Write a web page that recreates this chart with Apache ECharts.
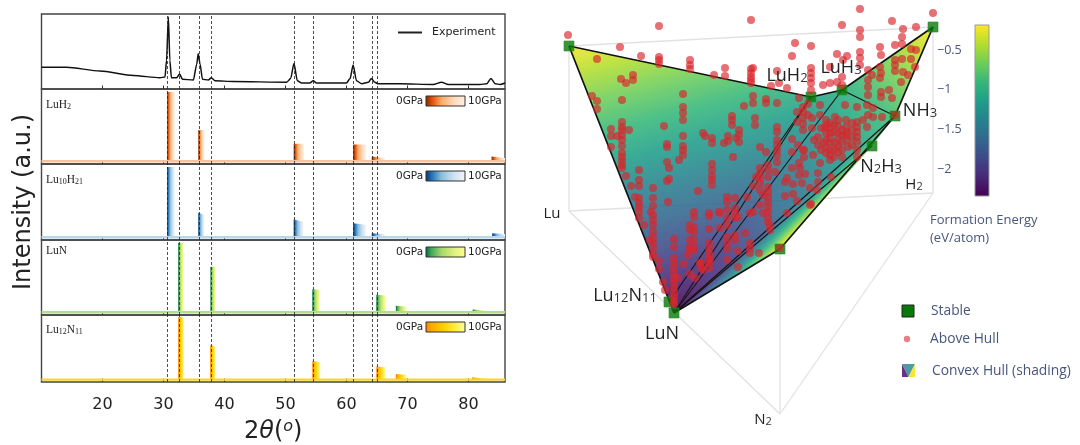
<!DOCTYPE html>
<html><head><meta charset="utf-8">
<style>html,body{margin:0;padding:0;background:#fff}#c{width:1080px;height:445px}</style>
<script src="https://cdn.jsdelivr.net/npm/echarts@6/dist/echarts.min.js"></script>
</head><body><div id="c"></div>
<script>
// ---------- XRD data ----------
const expTheta=[10,14.1,19.6,25.05,29.4,30.25,30.5,30.8,31.05,31.3,32.15,32.65,33.1,34.9,35.45,35.7,36,36.4,37.35,37.85,38.45,41.45,50.2,50.85,51.4,51.95,52.65,54,54.55,55.1,60,60.6,61.1,61.65,62.5,63.6,64.1,64.65,65.2,68.75,74.2,75.6,76.7,81.9,83,83.7,84.4,85.2,86];
const expInt=[29,29,24,18,15,16,38,96,38,15,15,20,13,12,33,47,33,13,12,15,11,10,9,14,34,11,8,8,11,8,8,14,32,11,7,9,14,9,7,7,6,9,6,6,7,14,7,6,8];
const dashedAt=[30.7,32.65,35.8,37.85,51.45,54.6,61.1,64.25,65.1];
const majorTicks=[20,30,40,50,60,70,80];
const baseLevel=3.6;
// each peak: 0 GPa angle, 10 GPa angle, height at 0 GPa, height at 10 GPa
const peaksLuH2=[[30.6,31.85,96,96],[35.7,36.7,45.5,45],[51.35,53.05,27,27],[61.1,63.2,26,26],[64.15,66.3,10,8],[75.6,78.1,5,4],[83.8,86,10,8]];
const peaksLu10H21=[[30.6,31.85,96,96],[35.7,36.7,36,33],[51.35,52.95,27,24],[61.1,63.2,22,20],[64.15,66.3,9,8],[75.6,78,5,4],[83.9,86,9,8]];
const peaksLuN=[[32.4,33.25,96.5,96],[37.7,38.55,64.5,64],[54.4,55.6,34,34],[64.9,66.4,27,26],[68.1,69.8,12.5,11.5],[80.7,82.5,7.5,6.5]];
const peaksLu12N11=[[32.4,33.35,97,97],[37.65,38.55,55,53],[54.4,55.7,31,30],[64.9,66.4,23,22],[68.1,69.85,12,11],[80.6,82.75,7,5]];
const panelNames=[[['LuH',0],['2',1]],[['Lu',0],['10',1],['H',0],['21',1]],[['LuN',0]],[['Lu',0],['12',1],['N',0],['11',1]]];
const rampLuH2=['#7f2704','#d94801','#fdab67','#fdd9bb','#fff1e4'];
const rampLu10H21=['#08306b','#1c6cb1','#8abfdd','#cde0f1','#f2f7fd'];
const rampLuN=['#006837','#3fa65a','#a5d86a','#dcf07f','#ffff8c'];
const rampLu12N11=['#fc7f00','#ffa800','#ffc800','#ffe83a','#fbff9a'];
const baseColours=['#f5c3a0','#b9d6ea','#b4dc8c','#ffd233'];

// ---------- convex-hull projection data (projected picture coordinates) ----------
const hullX=[569,811,842,933,895,872,780,674,669];
const hullY=[46,97,90,27,116,146,249,313,302];
const hullE=[-0.22,-1.05,-1.0,-0.2,-0.85,-0.7,-0.2,-2.34,-2.2];
const hullTriangles=[[0,1,7],[1,2,7],[2,4,7],[4,5,7],[5,6,7],[2,3,4]];
const hullEdgesOuter=[[0,1],[1,2],[2,3],[3,4],[4,6],[6,7],[7,0]];
const hullEdgesInner=[[8,1],[7,1],[7,2],[2,4],[7,4],[7,5]];
const boxEdges=[[569,46,933,27],[569,211,933,193],[569,46,569,211],[933,27,933,193],[569,211,780,414],[780,414,933,193],[780,249,780,414]];
const labelX=[552,787,841,914,920,881,763,662,625];
const labelY=[214,75,67,184,110,166,419,334,295];
const labelTxt=['{b|Lu}','{a|LuH}{c|2}','{a|LuH}{c|3}','{b|H}{d|2}','{a|NH}{c|3}','{a|N}{c|2}{a|H}{c|3}','{b|N}{d|2}','{a|LuN}','{a|Lu}{c|12}{a|N}{c|11}'];
const aboveHull=[[568,35],[659,26],[751,20],[620,47],[641,56],[659,57],[659,60],[659,64],[690,60],[690,65],[690,69],[597,59],[714,75],[725,68],[725,76],[751,69],[751,73],[751,77],[751,80],[751,83],[753,68],[777,71],[771,86],[779,83],[787,88],[792,56],[795,43],[811,46],[799,98],[633,75],[633,80],[621,79],[626,83],[592,96],[597,101],[597,109],[622,100],[683,94],[683,107],[683,113],[683,120],[664,126],[611,129],[611,136],[622,122],[622,127],[622,130],[622,135],[622,140],[617,136],[629,130],[611,147],[622,146],[622,153],[622,157],[622,161],[622,165],[622,168],[626,176],[639,170],[639,180],[639,186],[631,186],[653,188],[653,198],[635,197],[639,198],[639,203],[639,207],[639,212],[639,218],[651,212],[653,206],[653,215],[653,220],[653,225],[653,232],[668,202],[667,144],[667,147],[679,160],[667,162],[669,168],[667,181],[669,179],[683,136],[683,146],[683,150],[683,155],[703,133],[705,136],[712,138],[712,143],[724,143],[728,136],[728,141],[736,138],[739,130],[739,135],[739,142],[732,116],[732,120],[732,125],[744,106],[753,96],[753,103],[755,118],[755,125],[766,99],[766,103],[777,103],[777,127],[777,132],[760,147],[777,140],[777,145],[777,150],[777,155],[777,162],[733,157],[792,139],[712,164],[712,170],[712,176],[712,180],[712,185],[698,191],[727,197],[727,202],[804,150],[804,157],[799,163],[800,168],[792,168],[799,175],[805,174],[787,178],[785,182],[793,184],[802,183],[810,188],[793,194],[797,201],[760,168],[760,173],[760,178],[760,183],[760,190],[768,165],[768,170],[768,177],[756,177],[753,186],[768,187],[768,192],[768,197],[768,202],[768,207],[768,212],[768,217],[768,222],[770,225],[770,230],[763,195],[760,205],[763,213],[747,197],[750,213],[753,212],[735,198],[727,210],[727,218],[735,208],[735,213],[735,218],[720,213],[709,213],[709,216],[738,217],[709,229],[720,228],[727,225],[745,233],[735,235],[735,240],[727,237],[727,243],[727,249],[750,243],[750,248],[750,253],[738,251],[759,253],[727,260],[738,267],[709,243],[709,248],[709,253],[709,258],[709,263],[709,268],[701,263],[701,268],[780,248],[787,213],[810,205],[644,225],[653,238],[653,243],[653,248],[653,254],[653,257],[650,240],[659,261],[659,269],[694,212],[694,217],[719,212],[690,225],[690,230],[690,240],[690,247],[690,250],[694,227],[694,232],[694,240],[694,247],[694,250],[674,239],[674,247],[674,258],[674,263],[674,268],[674,273],[674,278],[674,283],[674,288],[674,293],[674,297],[674,301],[678,278],[663,282],[665,290],[684,264],[688,255],[690,274],[700,263],[695,278],[710,260],[703,270],[674,304],[860,9],[933,13],[892,21],[842,25],[860,30],[860,37],[903,29],[916,27],[902,37],[880,47],[895,45],[902,44],[881,55],[837,54],[847,56],[843,60],[860,52],[860,58],[860,65],[830,67],[811,68],[811,73],[811,78],[811,83],[811,90],[895,60],[895,65],[902,59],[911,49],[916,50],[911,59],[915,67],[903,72],[895,71],[880,67],[881,73],[868,70],[872,75],[868,80],[868,87],[868,95],[880,78],[889,90],[881,92],[881,97],[892,98],[908,75],[901,82],[867,105],[873,108],[857,107],[845,105],[895,115],[882,117],[873,117],[868,115],[863,120],[867,127],[857,122],[857,127],[857,132],[857,137],[857,142],[857,150],[857,157],[852,123],[847,132],[830,83],[823,85],[837,82],[842,77],[842,85],[820,105],[820,115],[803,107],[803,112],[803,118],[803,124],[803,130],[808,115],[830,123],[830,128],[830,133],[830,138],[830,143],[830,150],[830,155],[830,160],[835,117],[835,143],[842,130],[842,135],[842,142],[842,150],[842,157],[818,137],[823,143],[825,128],[847,140],[848,147],[818,145],[803,150],[820,163],[818,173],[818,182],[831,177],[817,190],[811,204],[826,120],[826,125],[826,133],[826,140],[826,147],[826,153],[838,120],[838,126],[838,133],[838,139],[838,146],[838,152],[846,120],[846,127],[846,135],[852,130],[852,137],[852,145],[834,125],[834,132],[834,150],[834,157],[821,128],[821,150],[814,140],[812,128],[812,118],[797,112],[797,122],[808,104],[813,155],[798,145],[792,152],[785,196],[775,172],[766,152]];
// ---------- colour bar ----------
const energyMin=-2.34, energyMax=-0.185;
const energyTicks=[-2,-1.5,-1,-0.5];
const viridis=['#440154','#482878','#3e4989','#31688e','#26828e','#1f9e89','#35b779','#6ece58','#b5de2b','#fde725'];

const vStops=viridis.map((c,i)=>({offset:i/(viridis.length-1),color:c}));
const rampStops=r=>[{offset:0,color:r[0]},{offset:.14,color:r[1]},{offset:.4,color:r[2]},{offset:.7,color:r[3]},{offset:1,color:r[4]}];
const ramps=[rampLuH2,rampLu10H21,rampLuN,rampLu12N11];
const peaks=[peaksLuH2,peaksLu10H21,peaksLuN,peaksLu12N11];

const L=41.5,W=463.5;
const panelTop=[14,89,164,240,315], panelH=[75,75,76,75,75];
const grids=panelTop.map((t,i)=>({left:L,width:W,top:t,height:panelH[i],show:true,borderColor:'#444',borderWidth:1.4,backgroundColor:'transparent'}));
grids.push({left:520,width:560,top:0,height:445,show:false});            // hull
grids.push({left:975,width:14,top:25,height:171,show:false});             // colour bar

const xAxes=panelTop.map((t,i)=>({gridIndex:i,type:'value',min:10,max:86,
  axisLine:{show:false},splitLine:{show:false},
  axisTick:{show:true,inside:true,length:3.5,customValues:majorTicks,lineStyle:{color:'#333',width:1}},
  axisLabel:{show:i===4,customValues:majorTicks,color:'#222',fontFamily:'DejaVu Sans',fontSize:16,margin:15},
  ...(i===4?{name:'2{i|θ}({s|o})',nameLocation:'middle',nameGap:37,nameTextStyle:{fontFamily:'DejaVu Sans',fontSize:24,color:'#222',rich:{i:{fontFamily:'DejaVu Sans',fontStyle:'italic',fontSize:24,color:'#222'},s:{fontFamily:'DejaVu Sans',fontStyle:'italic',fontSize:16,color:'#222',padding:[0,0,10,0]}}}}:{})}));
const yAxes=panelTop.map((t,i)=>({gridIndex:i,type:'value',min:0,max:100,
  axisLine:{show:false},axisTick:{show:false},axisLabel:{show:false},splitLine:{show:false},
  ...(i===2?{name:'Intensity (a.u.)',nameLocation:'middle',nameGap:6,nameRotate:90,nameTextStyle:{fontFamily:'DejaVu Sans',fontSize:24,color:'#222'}}:{})}));
xAxes.push({gridIndex:5,type:'value',min:520,max:1080,show:false});
yAxes.push({gridIndex:5,type:'value',min:0,max:445,inverse:true,show:false});
xAxes.push({gridIndex:6,type:'value',min:0,max:1,show:false});
yAxes.push({gridIndex:6,type:'value',min:energyMin,max:energyMax,position:'left',
  axisLine:{show:false},axisTick:{show:false},splitLine:{show:false},
  axisLabel:{customValues:energyTicks,margin:38,align:'left',color:'#47567c',fontFamily:'Open Sans',fontSize:12.5,formatter:v=>String(v).replace('-','−')}});

const dashLines=dashedAt.map(x=>({xAxis:x}));
const series=[];
series.push({name:'Experiment',type:'line',xAxisIndex:0,yAxisIndex:0,data:expTheta.map((x,i)=>[x,expInt[i]]),showSymbol:false,smooth:0.25,smoothMonotone:'x',lineStyle:{color:'#111',width:1.5},itemStyle:{color:'#222'},z:4,
  markLine:{silent:true,symbol:'none',label:{show:false},animation:false,lineStyle:{color:'#222',type:[3,2],width:.8},data:dashLines}});
peaks.forEach((pk,p)=>{
  const ax=p+1;
  series.push({type:'line',xAxisIndex:ax,yAxisIndex:ax,data:[[10,baseLevel],[86,baseLevel]],showSymbol:false,lineStyle:{color:baseColours[p],width:2.4},z:2,
    markLine:{silent:true,symbol:'none',label:{show:false},animation:false,lineStyle:{color:'#222',type:[3,2],width:.8},data:dashLines},zlevel:0});
  series.push({type:'custom',xAxisIndex:ax,yAxisIndex:ax,data:pk,z:1,clip:true,silent:true,
    encode:{x:[0,1],y:[2,3]},
    renderItem:(params,api)=>{
      const x0=api.value(0),x1=api.value(1),h0=api.value(2),h1=api.value(3);
      const a=api.coord([x0,baseLevel]),b=api.coord([x0,h0]),c=api.coord([x1,h1]),d=api.coord([x1,baseLevel]);
      return {type:'polygon',shape:{points:[a,b,c,d]},style:{fill:new echarts.graphic.LinearGradient(a[0],0,d[0],0,rampStops(ramps[p]),true)}};
    }});
});
// hull box
series.push({type:'custom',xAxisIndex:5,yAxisIndex:5,data:boxEdges,z:1,silent:true,encode:{x:[0,2],y:[1,3]},
  renderItem:(params,api)=>{const a=api.coord([api.value(0),api.value(1)]),b=api.coord([api.value(2),api.value(3)]);
    return {type:'line',shape:{x1:a[0],y1:a[1],x2:b[0],y2:b[1]},style:{stroke:'#e2e2e2',lineWidth:1.3}};}});
// hull shading
series.push({name:'Convex Hull (shading)',type:'custom',xAxisIndex:5,yAxisIndex:5,data:hullTriangles,z:2,silent:true,
  encode:{x:[],y:[]},
  renderItem:(params,api)=>{
    const t=hullTriangles[params.dataIndex];
    const pts=t.map(i=>api.coord([hullX[i],hullY[i]])),v=t.map(i=>hullE[i]);
    const [p0,p1,p2]=pts;
    const d1=[p1[0]-p0[0],p1[1]-p0[1]],d2=[p2[0]-p0[0],p2[1]-p0[1]];
    const det=d1[0]*d2[1]-d1[1]*d2[0];
    const a=((v[1]-v[0])*d2[1]-(v[2]-v[0])*d1[1])/det, b=(d1[0]*(v[2]-v[0])-d2[0]*(v[1]-v[0]))/det;
    const n=a*a+b*b;
    const s=[p0[0]+(energyMin-v[0])*a/n,p0[1]+(energyMin-v[0])*b/n],e=[p0[0]+(energyMax-v[0])*a/n,p0[1]+(energyMax-v[0])*b/n];
    return {type:'polygon',shape:{points:pts},style:{opacity:.88,fill:new echarts.graphic.LinearGradient(s[0],s[1],e[0],e[1],vStops,true)}};
  }});
// hull edges
const edgeSeries=(list,w)=>({type:'custom',xAxisIndex:5,yAxisIndex:5,data:list,z:3,silent:true,encode:{x:[],y:[]},
  renderItem:(params,api)=>{const [i,j]=list[params.dataIndex];const a=api.coord([hullX[i],hullY[i]]),b=api.coord([hullX[j],hullY[j]]);
    return {type:'line',shape:{x1:a[0],y1:a[1],x2:b[0],y2:b[1]},style:{stroke:'#111',lineWidth:w}};}});
series.push(edgeSeries(hullEdgesInner,1.1),edgeSeries(hullEdgesOuter,1.7));
series.push({name:'Stable',type:'scatter',xAxisIndex:5,yAxisIndex:5,data:hullX.map((x,i)=>[x,hullY[i]]),symbol:'rect',symbolSize:10,itemStyle:{color:'#067a06',borderColor:'#3b8a3b',borderWidth:.8},z:4,silent:true});
series.push({name:'Above Hull',type:'scatter',xAxisIndex:5,yAxisIndex:5,data:aboveHull,symbol:'circle',symbolSize:8,itemStyle:{color:'#d9262c',opacity:.66},z:5,silent:true});
const rs={a:{fontFamily:'Open Sans',fontSize:18,color:'#222',verticalAlign:'bottom'},b:{fontFamily:'Open Sans',fontSize:15,color:'#222',verticalAlign:'bottom'},
  c:{fontFamily:'Open Sans',fontSize:13,color:'#333',verticalAlign:'bottom',padding:[7,0,0,0]},d:{fontFamily:'Open Sans',fontSize:11,color:'#333',verticalAlign:'bottom',padding:[6,0,0,0]}};
series.push({type:'scatter',xAxisIndex:5,yAxisIndex:5,data:labelX.map((x,i)=>[x,labelY[i]]),symbolSize:1,itemStyle:{color:'rgba(0,0,0,0)'},z:6,silent:true,
  label:{show:true,position:'inside',opacity:1,formatter:p=>labelTxt[p.dataIndex],rich:rs}});
// colour bar
series.push({type:'custom',xAxisIndex:6,yAxisIndex:6,data:[[energyMin,energyMax]],z:2,silent:true,encode:{x:[],y:[0,1]},
  renderItem:(params,api)=>{const s=api.coord([0,api.value(0)]),e=api.coord([1,api.value(1)]);
    return {type:'rect',shape:{x:s[0],y:e[1],width:e[0]-s[0],height:s[1]-e[1]},style:{stroke:'#999',lineWidth:1,fill:new echarts.graphic.LinearGradient(0,s[1],0,e[1],vStops,true)}};}});

const graphic=[];
const panelLabelY=[105,180,251,330];
panelNames.forEach((parts,i)=>{
  const txt=parts.map(p=>'{'+(p[1]?'s':'n')+'|'+p[0]+'}').join('');
  graphic.push({type:'text',x:46,y:panelLabelY[i],z:20,style:{text:txt,verticalAlign:'middle',rich:{n:{fontFamily:'Liberation Serif',fontSize:11.5,fill:'#222',verticalAlign:'bottom'},s:{fontFamily:'Liberation Serif',fontSize:8,fill:'#222',verticalAlign:'bottom',padding:[3,0,0,0]}}}});
  const top=panelTop[i+1]+7;
  graphic.push({type:'text',x:396,y:top+5,z:20,style:{text:'0GPa',fontFamily:'DejaVu Sans',fontSize:10.5,fill:'#222',verticalAlign:'middle'}});
  graphic.push({type:'rect',z:20,shape:{x:426,y:top,width:39,height:10},style:{stroke:'#333',lineWidth:1,fill:new echarts.graphic.LinearGradient(0,0,1,0,rampStops(ramps[i]))}});
  graphic.push({type:'text',x:468,y:top+5,z:20,style:{text:'10GPa',fontFamily:'DejaVu Sans',fontSize:10.5,fill:'#222',verticalAlign:'middle'}});
});
const navy='#47567c';
graphic.push({type:'text',x:930,y:220,z:20,style:{text:'Formation Energy',fontFamily:'Open Sans',fontSize:13,fill:navy,verticalAlign:'middle'}});
graphic.push({type:'text',x:930,y:238,z:20,style:{text:'(eV/atom)',fontFamily:'Open Sans',fontSize:13,fill:navy,verticalAlign:'middle'}});
graphic.push({type:'rect',z:20,shape:{x:902,y:305,width:12,height:12},style:{fill:'#067a06',stroke:'#222',lineWidth:1}});
graphic.push({type:'circle',z:20,shape:{cx:907,cy:339,r:3.2},style:{fill:'#e77f83'}});
graphic.push({type:'polygon',z:20,shape:{points:[[902,364],[915,364],[908.5,377]]},style:{fill:'#4f9aa3'}});
graphic.push({type:'polygon',z:20,shape:{points:[[902,364],[908.5,377],[902,377]]},style:{fill:'#6a2f86'}});
graphic.push({type:'polygon',z:20,shape:{points:[[915,364],[915,377],[908.5,377]]},style:{fill:'#f7e733'}});
[['Stable',931,311],['Above Hull',930,339],['Convex Hull (shading)',932,371]].forEach(t=>graphic.push({type:'text',x:t[1],y:t[2],z:20,style:{text:t[0],fontFamily:'Open Sans',fontSize:13.8,fill:navy,verticalAlign:'middle'}}));

const chart=echarts.init(document.getElementById('c'),null,{renderer:'canvas'});
chart.setOption({animation:false,backgroundColor:'#fff',grid:grids,xAxis:xAxes,yAxis:yAxes,series,graphic,
  legend:{data:[{name:'Experiment',icon:'path://M0 0H24V2H0Z'}],left:393,top:22,itemWidth:24,itemHeight:2,textStyle:{fontFamily:'DejaVu Sans',fontSize:11,color:'#222',padding:[0,0,0,5]},selectedMode:false}});
</script></body></html>
